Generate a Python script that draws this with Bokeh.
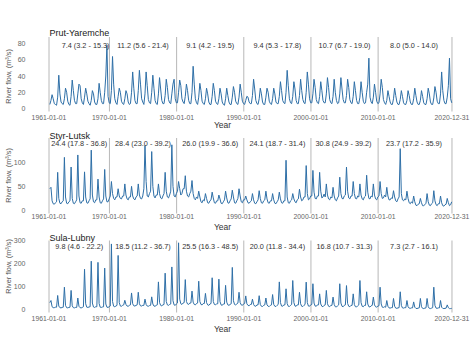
import math
from bokeh.plotting import figure
from bokeh.models import FixedTicker, Label, Range1d
from bokeh.layouts import column
from bokeh.embed import file_html
from bokeh.resources import INLINE
from bokeh.core.properties import value

# ---------------- data ----------------
years = list(range(1961, 2021))
month_idx = [1, 3, 5, 7, 9, 11]          # Feb, Apr, Jun, Aug, Oct, Dec samples per year

# Prut-Yaremche flow (m3/s), rows = years 1961..2020
prut_flow = [
    [5, 10, 17, 12, 6, 5], [4, 14, 41, 18, 8, 6], [5, 12, 25, 20, 9, 5], [4, 15, 35, 22, 10, 6],
    [6, 18, 30, 28, 12, 7], [5, 14, 25, 18, 9, 6], [4, 10, 22, 18, 8, 5], [5, 12, 31, 20, 10, 6],
    [6, 20, 40, 78, 15, 7], [6, 22, 64, 30, 12, 7], [5, 15, 25, 20, 9, 6], [5, 12, 22, 18, 8, 5],
    [6, 20, 45, 25, 10, 6], [6, 22, 47, 30, 12, 8], [5, 18, 45, 28, 11, 7], [6, 20, 41, 25, 10, 6],
    [5, 18, 38, 24, 10, 6], [6, 16, 36, 26, 11, 7], [6, 18, 30, 36, 12, 7], [7, 20, 35, 28, 12, 8],
    [6, 15, 30, 22, 10, 6], [6, 20, 52, 30, 12, 7], [5, 14, 31, 22, 9, 6], [5, 12, 25, 18, 8, 5],
    [5, 15, 31, 22, 9, 6], [5, 12, 25, 18, 8, 5], [4, 12, 25, 16, 8, 5], [5, 14, 27, 20, 9, 6],
    [5, 14, 30, 20, 9, 6], [5, 10, 15, 14, 8, 6], [6, 16, 36, 24, 10, 6], [5, 12, 25, 18, 8, 5],
    [5, 14, 25, 20, 9, 6], [5, 12, 25, 18, 8, 6], [6, 15, 33, 22, 10, 7], [6, 20, 47, 28, 12, 7],
    [6, 15, 33, 24, 10, 6], [6, 16, 36, 22, 11, 7], [6, 20, 45, 30, 12, 7], [7, 18, 36, 26, 11, 7],
    [6, 15, 33, 22, 10, 7], [7, 18, 38, 26, 11, 7], [6, 15, 36, 20, 10, 6], [7, 18, 38, 24, 11, 7],
    [7, 16, 36, 26, 11, 7], [6, 15, 33, 22, 10, 6], [6, 14, 33, 20, 9, 6], [7, 20, 30, 62, 14, 8],
    [6, 14, 30, 20, 9, 6], [7, 18, 36, 26, 11, 7], [5, 10, 22, 15, 8, 5], [5, 12, 25, 16, 8, 5],
    [5, 11, 22, 15, 7, 5], [5, 10, 22, 16, 8, 5], [5, 12, 25, 16, 8, 5], [5, 10, 22, 15, 7, 5],
    [5, 12, 25, 18, 8, 5], [5, 13, 27, 20, 9, 6], [6, 18, 45, 22, 10, 6], [6, 14, 28, 62, 12, 7],
]

# Styr-Lutsk flow (m3/s)
styr_flow = [
    [45, 48, 20, 14, 13, 16], [18, 79, 25, 15, 14, 18], [20, 110, 28, 15, 14, 18], [20, 90, 25, 15, 14, 18],
    [22, 115, 30, 16, 15, 20], [20, 80, 28, 16, 15, 20], [24, 125, 32, 18, 16, 22], [22, 65, 28, 16, 15, 20],
    [24, 85, 30, 18, 18, 24], [30, 60, 35, 25, 22, 28], [28, 45, 30, 25, 24, 30], [30, 55, 32, 24, 22, 28],
    [28, 50, 30, 24, 22, 28], [30, 55, 32, 25, 24, 30], [45, 134, 60, 30, 28, 35], [40, 122, 50, 30, 26, 32],
    [32, 55, 35, 26, 24, 30], [35, 79, 40, 28, 26, 32], [40, 136, 50, 30, 28, 35], [40, 60, 45, 32, 35, 45],
    [45, 72, 40, 30, 28, 35], [40, 62, 35, 25, 22, 28], [25, 40, 28, 18, 16, 22], [20, 35, 25, 16, 15, 20],
    [22, 38, 26, 16, 15, 20], [20, 32, 24, 15, 14, 18], [22, 40, 26, 16, 15, 20], [24, 42, 28, 16, 15, 20],
    [25, 45, 30, 18, 16, 22], [22, 30, 22, 16, 15, 18], [20, 35, 22, 15, 14, 18], [22, 41, 25, 16, 15, 20],
    [22, 40, 24, 16, 15, 20], [20, 35, 22, 15, 14, 18], [22, 38, 24, 16, 15, 20], [20, 104, 28, 16, 15, 20],
    [22, 35, 24, 18, 16, 22], [24, 44, 28, 20, 22, 28], [28, 93, 35, 22, 24, 30], [30, 83, 38, 25, 24, 30],
    [30, 79, 40, 26, 28, 34], [28, 55, 32, 24, 22, 28], [26, 48, 30, 22, 20, 26], [30, 69, 35, 25, 24, 30],
    [32, 90, 40, 26, 24, 30], [30, 60, 35, 25, 24, 30], [28, 55, 32, 24, 22, 28], [30, 73, 38, 25, 24, 30],
    [28, 55, 32, 24, 22, 28], [30, 60, 35, 25, 26, 32], [28, 48, 30, 22, 22, 26], [25, 41, 28, 20, 18, 24],
    [28, 128, 35, 22, 20, 24], [22, 40, 25, 16, 14, 18], [15, 30, 18, 11, 10, 13], [14, 25, 16, 10, 10, 12],
    [15, 35, 18, 11, 10, 14], [16, 41, 20, 12, 10, 14], [14, 30, 16, 10, 9, 12], [13, 25, 16, 10, 12, 18],
]

# Sula-Lubny flow (m3/s)
sula_flow = [
    [30, 39, 12, 8, 8, 10], [10, 61, 15, 8, 7, 9], [10, 97, 18, 8, 7, 9], [10, 83, 16, 8, 7, 9],
    [9, 50, 14, 8, 7, 9], [12, 175, 25, 10, 9, 11], [12, 210, 28, 11, 9, 12], [12, 205, 26, 10, 9, 11],
    [12, 180, 24, 10, 9, 12], [15, 285, 35, 14, 12, 15], [18, 235, 30, 15, 14, 18], [20, 40, 22, 15, 14, 18],
    [20, 72, 25, 16, 15, 18], [20, 75, 25, 16, 15, 18], [18, 45, 22, 15, 14, 17], [18, 55, 24, 15, 14, 18],
    [20, 120, 30, 18, 16, 20], [22, 158, 35, 20, 18, 22], [24, 185, 38, 20, 18, 24], [28, 290, 45, 25, 22, 28],
    [30, 130, 35, 24, 22, 28], [28, 80, 32, 22, 20, 26], [28, 123, 35, 22, 20, 26], [26, 70, 30, 20, 18, 24],
    [26, 138, 35, 22, 20, 25], [25, 132, 34, 20, 18, 24], [24, 105, 32, 20, 18, 22], [25, 183, 38, 22, 20, 24],
    [28, 75, 30, 20, 18, 24], [26, 59, 25, 18, 16, 22], [22, 45, 22, 15, 14, 20], [20, 60, 22, 14, 13, 18],
    [20, 50, 20, 14, 13, 18], [20, 65, 22, 14, 13, 18], [22, 120, 30, 15, 14, 20], [20, 90, 26, 14, 13, 18],
    [22, 126, 30, 15, 14, 20], [20, 75, 25, 14, 13, 18], [22, 119, 30, 15, 14, 20], [22, 112, 28, 15, 14, 20],
    [20, 68, 24, 14, 12, 18], [20, 83, 25, 14, 12, 18], [18, 54, 22, 12, 11, 16], [20, 112, 28, 14, 12, 18],
    [20, 104, 26, 14, 12, 18], [18, 68, 22, 12, 11, 16], [20, 126, 30, 14, 12, 18], [18, 77, 24, 12, 11, 16],
    [18, 54, 20, 12, 10, 15], [16, 97, 24, 10, 9, 12], [10, 39, 14, 7, 6, 8], [8, 48, 14, 6, 5, 7],
    [8, 77, 18, 7, 6, 8], [8, 39, 12, 6, 5, 7], [7, 33, 10, 5, 4, 6], [7, 48, 12, 5, 4, 6],
    [7, 48, 12, 5, 4, 6], [8, 97, 18, 6, 5, 7], [7, 39, 10, 5, 4, 5], [6, 20, 8, 4, 4, 5],
]

station_names = ["Prut-Yaremche", "Styr-Lutsk", "Sula-Lubny"]

prut_labels = ["7.4 (3.2  - 15.3)", "11.2 (5.6 - 21.4)", "9.1 (4.2 - 19.5)",
               "9.4 (5.3 - 17.8)", "10.7 (6.7 - 19.0)", "8.0 (5.0  - 14.0)"]
styr_labels = ["24.4 (17.8 - 36.8)", "28.4 (23.0 - 39.2)", "26.0 (19.9 - 36.6)",
               "24.1 (18.7 - 31.4)", "30.8  (24.9 - 39.2)", "23.7 (17.2  - 35.9)"]
sula_labels = ["9.8 (4.6 - 22.2)", "18.5 (11.2 - 36.7)", "25.5 (16.3 - 48.5)",
               "20.0 (11.8 - 34.4)", "16.8 (10.7 - 31.3)", "7.3 (2.7  - 16.1)"]

prut_label_x = [1966.6, 1975, 1985, 1995, 2005, 2015.5]
styr_label_x = [1965.5, 1975, 1985, 1995, 2005, 2015.5]
sula_label_x = [1965.5, 1975, 1985, 1995, 2005, 2015.5]

sep_years = [1961, 1970, 1980, 1990, 2000, 2010, 2021 - 1 / 365]
x_tick_labels = ["1961-01-01", "1970-01-01", "1980-01-01", "1990-01-01",
                 "2000-01-01", "2010-01-01", "2020-12-31"]

prut_yticks = [0, 20, 40, 60, 80]
styr_yticks = [0, 50, 100]
sula_yticks = [0, 100, 200, 300]

# ---------------- drawing ----------------
FONT = "Liberation Sans"
LINE_COLOR = "#2e6fa7"
PX_PER_YEAR = 403 / 60            # 1961 -> page x 48.5, 2021 -> page x 451.5
PAGE_W = 474


def t_at(px):                      # page x -> year
    return 1961 + (px - 48.5) / PX_PER_YEAR


X_START, X_END = t_at(0), t_at(PAGE_W)


def panel(name, flows, labels, label_x, yticks, canvas_top, canvas_bottom, zero, ppu,
          axis_y, sep_bottom, sep_top, title_y, ann_y, year_y, ylab_y):
    def v(py):                     # page y -> data value
        return (zero - py) / ppu

    t = [yr + (m + 0.5) / 12 for yr in years for m in month_idx]
    q = [val for row in flows for val in row]

    p = figure(width=PAGE_W, height=canvas_bottom - canvas_top, output_backend="svg",
               toolbar_location=None,
               x_range=Range1d(X_START, X_END),
               y_range=Range1d(v(canvas_bottom), v(canvas_top)),
               min_border_top=0, min_border_bottom=0, min_border_left=0, min_border_right=0,
               background_fill_color="white", border_fill_color="white")
    p.outline_line_color = None
    p.grid.visible = False

    # decade separators
    p.segment(x0=sep_years, x1=sep_years, y0=[v(sep_bottom)] * len(sep_years),
              y1=[v(sep_top)] * len(sep_years), line_color="#b8b8b8", line_width=1)

    p.line(t, q, line_color=LINE_COLOR, line_width=1)

    p.text(x=label_x, y=[v(ann_y)] * len(labels), text=labels, text_align="center",
           text_baseline="middle", text_font=value(FONT), text_font_size="7.3px",
           text_color="#333333")

    p.add_layout(Label(x=t_at(49), y=v(title_y), text=name, text_align="left",
                       text_baseline="middle", text_font=FONT, text_font_size="9px",
                       text_color="#1a1a1a"))
    p.add_layout(Label(x=t_at(222), y=v(year_y), text="Year", text_align="center",
                       text_baseline="middle", text_font=FONT, text_font_size="8.5px",
                       text_color="#333333"))
    p.add_layout(Label(x=t_at(7.5), y=v(ylab_y), text="River flow, (m³/s)", angle=math.pi / 2,
                       text_align="center", text_baseline="middle", text_font=FONT,
                       text_font_size="7.3px", text_color="#555555"))

    for ax in (p.xaxis[0], p.yaxis[0]):
        ax.axis_line_color = None
        ax.major_tick_line_color = None
        ax.minor_tick_line_color = None
        ax.major_tick_out = 0
        ax.major_tick_in = 0
        ax.minor_tick_out = 0
        ax.minor_tick_in = 0
        ax.major_label_text_font = FONT
        ax.major_label_text_color = "#666666"
        ax.major_label_standoff = 3
    p.xaxis.fixed_location = v(axis_y)
    p.yaxis.fixed_location = t_at(28)
    p.xaxis.major_label_text_font_size = "6.8px"
    p.yaxis.major_label_text_font_size = "7px"
    p.xaxis.ticker = FixedTicker(ticks=sep_years)
    p.xaxis.major_label_overrides = {k: s for k, s in zip(sep_years, x_tick_labels)}
    p.yaxis.ticker = FixedTicker(ticks=yticks)
    return p


p1 = panel(station_names[0], prut_flow, prut_labels, prut_label_x, prut_yticks,
           canvas_top=0, canvas_bottom=130, zero=108, ppu=0.8125,
           axis_y=111, sep_bottom=111, sep_top=36.5,
           title_y=32, ann_y=45, year_y=124, ylab_y=76)
p2 = panel(station_names[1], styr_flow, styr_labels, styr_label_x, styr_yticks,
           canvas_top=130, canvas_bottom=232, zero=210, ppu=0.483,
           axis_y=210.5, sep_bottom=213, sep_top=137.5,
           title_y=135.5, ann_y=143, year_y=226, ylab_y=175)
p3 = panel(station_names[2], sula_flow, sula_labels, sula_label_x, sula_yticks,
           canvas_top=232, canvas_bottom=355, zero=309, ppu=0.23,
           axis_y=312, sep_bottom=312, sep_top=240,
           title_y=237, ann_y=245.5, year_y=328, ylab_y=266)

layout = column(p1, p2, p3, spacing=0)
open("out.html", "w").write(file_html(layout, INLINE))
